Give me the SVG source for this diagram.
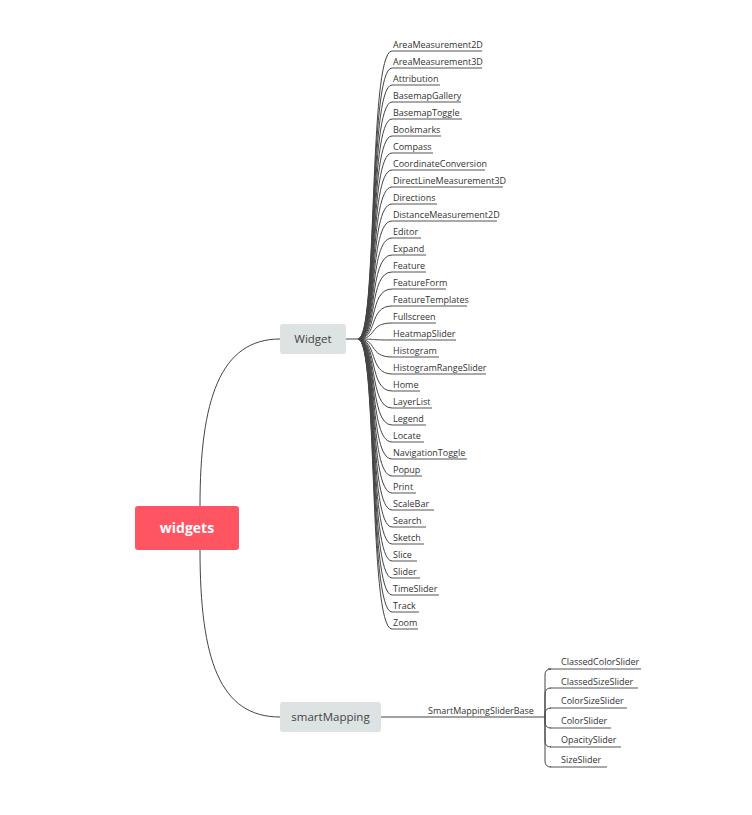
<svg xmlns="http://www.w3.org/2000/svg" width="752" height="815" viewBox="0 0 752 815">
<style>
.t{font-family:"Open Sans","Noto Sans",sans-serif;font-size:9px;fill:#333}
.c{fill:none;stroke:#444;stroke-width:1}
.u{stroke:#555;stroke-width:1}
.n{font-family:"Open Sans","Noto Sans",sans-serif;font-size:11.5px;fill:#444;text-anchor:middle}
</style>
<rect width="752" height="815" fill="#fff"/>
<g id="connectors">
<path class="c" stroke-width="1.5" d="M200,506 C200,400 220,339 280,339"/>
<path class="c" stroke-width="1.5" d="M200,550 C200,660 220,717 280,717"/>
<path class="c" d="M346,339 H358"/>
<path class="c" d="M381,717 H422"/>
<path class="c" stroke-width="1.5" d="M422,717 H545"/>
</g>
<g id="root"><rect x="135" y="506" width="104" height="44" rx="3" fill="#FF5462"/><text x="187" y="533" text-anchor="middle" font-family="'Open Sans','Noto Sans',sans-serif" font-size="14" font-weight="bold" fill="#fff">widgets</text></g>
<g id="widget"><rect x="280" y="324" width="66" height="30" rx="3" fill="#DDE2E3"/><text class="n" x="313" y="343">Widget</text></g>
<g id="smartMapping"><rect x="280" y="702" width="101" height="30" rx="3" fill="#DDE2E3"/><text class="n" x="330.5" y="721">smartMapping</text></g>
<g id="widget-children">
<g class="c">
<path d="M358,339 C378,339 368,51 392,51"/><path d="M358,339 C378,339 368,68 392,68"/><path d="M358,339 C378,339 368,85 392,85"/><path d="M358,339 C378,339 368,102 392,102"/><path d="M358,339 C378,339 368,119 392,119"/><path d="M358,339 C378,339 368,136 392,136"/><path d="M358,339 C378,339 368,153 392,153"/><path d="M358,339 C378,339 368,170 392,170"/><path d="M358,339 C378,339 368,187 392,187"/><path d="M358,339 C378,339 368,204 392,204"/><path d="M358,339 C378,339 368,221 392,221"/><path d="M358,339 C378,339 368,238 392,238"/><path d="M358,339 C378,339 368,255 392,255"/><path d="M358,339 C378,339 368,272 392,272"/><path d="M358,339 C378,339 368,289 392,289"/><path d="M358,339 C378,339 368,306 392,306"/><path d="M358,339 C378,339 368,323 392,323"/><path d="M358,339 C378,339 368,340 392,340"/><path d="M358,339 C378,339 368,357 392,357"/><path d="M358,339 C378,339 368,374 392,374"/><path d="M358,339 C378,339 368,391 392,391"/><path d="M358,339 C378,339 368,408 392,408"/><path d="M358,339 C378,339 368,425 392,425"/><path d="M358,339 C378,339 368,442 392,442"/><path d="M358,339 C378,339 368,459 392,459"/><path d="M358,339 C378,339 368,476 392,476"/><path d="M358,339 C378,339 368,493 392,493"/><path d="M358,339 C378,339 368,510 392,510"/><path d="M358,339 C378,339 368,527 392,527"/><path d="M358,339 C378,339 368,544 392,544"/><path d="M358,339 C378,339 368,561 392,561"/><path d="M358,339 C378,339 368,578 392,578"/><path d="M358,339 C378,339 368,595 392,595"/><path d="M358,339 C378,339 368,612 392,612"/><path d="M358,339 C378,339 368,629 392,629"/>
</g>
<g class="u">
<line x1="392" y1="51" x2="482" y2="51"/><line x1="392" y1="68" x2="482" y2="68"/><line x1="392" y1="85" x2="440" y2="85"/><line x1="392" y1="102" x2="461" y2="102"/><line x1="392" y1="119" x2="462" y2="119"/><line x1="392" y1="136" x2="441" y2="136"/><line x1="392" y1="153" x2="433" y2="153"/><line x1="392" y1="170" x2="485" y2="170"/><line x1="392" y1="187" x2="503" y2="187"/><line x1="392" y1="204" x2="437" y2="204"/><line x1="392" y1="221" x2="497" y2="221"/><line x1="392" y1="238" x2="421" y2="238"/><line x1="392" y1="255" x2="426" y2="255"/><line x1="392" y1="272" x2="426" y2="272"/><line x1="392" y1="289" x2="446" y2="289"/><line x1="392" y1="306" x2="467" y2="306"/><line x1="392" y1="323" x2="436" y2="323"/><line x1="392" y1="340" x2="456" y2="340"/><line x1="392" y1="357" x2="439" y2="357"/><line x1="392" y1="374" x2="486" y2="374"/><line x1="392" y1="391" x2="420" y2="391"/><line x1="392" y1="408" x2="432" y2="408"/><line x1="392" y1="425" x2="426" y2="425"/><line x1="392" y1="442" x2="424" y2="442"/><line x1="392" y1="459" x2="467" y2="459"/><line x1="392" y1="476" x2="422" y2="476"/><line x1="392" y1="493" x2="416" y2="493"/><line x1="392" y1="510" x2="434" y2="510"/><line x1="392" y1="527" x2="426" y2="527"/><line x1="392" y1="544" x2="424" y2="544"/><line x1="392" y1="561" x2="417" y2="561"/><line x1="392" y1="578" x2="420" y2="578"/><line x1="392" y1="595" x2="439" y2="595"/><line x1="392" y1="612" x2="419" y2="612"/><line x1="392" y1="629" x2="418" y2="629"/>
</g>
<g class="t">
<text x="393" y="48">AreaMeasurement2D</text><text x="393" y="65">AreaMeasurement3D</text><text x="393" y="82">Attribution</text><text x="393" y="99">BasemapGallery</text><text x="393" y="116">BasemapToggle</text><text x="393" y="133">Bookmarks</text><text x="393" y="150">Compass</text><text x="393" y="167">CoordinateConversion</text><text x="393" y="184">DirectLineMeasurement3D</text><text x="393" y="201">Directions</text><text x="393" y="218">DistanceMeasurement2D</text><text x="393" y="235">Editor</text><text x="393" y="252">Expand</text><text x="393" y="269">Feature</text><text x="393" y="286">FeatureForm</text><text x="393" y="303">FeatureTemplates</text><text x="393" y="320">Fullscreen</text><text x="393" y="337">HeatmapSlider</text><text x="393" y="354">Histogram</text><text x="393" y="371">HistogramRangeSlider</text><text x="393" y="388">Home</text><text x="393" y="405">LayerList</text><text x="393" y="422">Legend</text><text x="393" y="439">Locate</text><text x="393" y="456">NavigationToggle</text><text x="393" y="473">Popup</text><text x="393" y="490">Print</text><text x="393" y="507">ScaleBar</text><text x="393" y="524">Search</text><text x="393" y="541">Sketch</text><text x="393" y="558">Slice</text><text x="393" y="575">Slider</text><text x="393" y="592">TimeSlider</text><text x="393" y="609">Track</text><text x="393" y="626">Zoom</text>
</g>
</g>
<g id="smartMappingSliderBase"><text class="t" x="428" y="714">SmartMappingSliderBase</text></g>
<g id="slider-children">
<g class="c">
<path d="M545,717 V675 Q545,669 551,669 H548"/><path d="M545,717 V694 Q545,688 551,688"/><path d="M545,717 V714 Q545,708 551,708"/><path d="M545,717 V722 Q545,728 551,728"/><path d="M545,717 V741 Q545,747 551,747"/><path d="M545,717 V761 Q545,767 551,767"/>
</g>
<g class="u">
<line x1="550" y1="669" x2="641" y2="669"/><line x1="550" y1="688" x2="638" y2="688"/><line x1="550" y1="708" x2="627" y2="708"/><line x1="550" y1="728" x2="611" y2="728"/><line x1="550" y1="747" x2="621" y2="747"/><line x1="550" y1="767" x2="607" y2="767"/>
</g>
<g class="t">
<text x="561" y="665">ClassedColorSlider</text><text x="561" y="685">ClassedSizeSlider</text><text x="561" y="704">ColorSizeSlider</text><text x="561" y="724">ColorSlider</text><text x="561" y="743">OpacitySlider</text><text x="561" y="763">SizeSlider</text>
</g>
</g>
</svg>
